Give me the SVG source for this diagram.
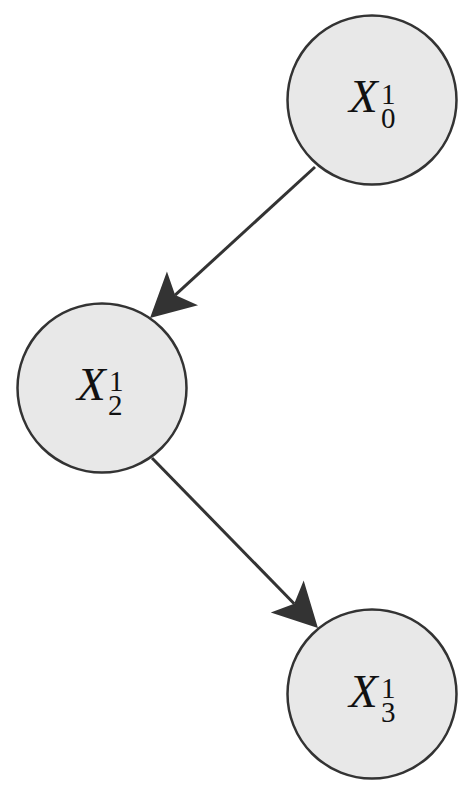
<svg xmlns="http://www.w3.org/2000/svg" width="474" height="797" viewBox="0 0 474 797">
<style>
.node{fill:#e8e8e8;stroke:#333;stroke-width:2.5}
.edge{stroke:#333;stroke-width:3;fill:none}
.v{font-family:"Liberation Serif","Times New Roman",serif;font-style:italic;font-size:47px;fill:#111}
.d{font-family:"Liberation Serif","Times New Roman",serif;font-size:29px;fill:#111}
</style>
<defs>
<marker id="arr" markerUnits="userSpaceOnUse" viewBox="-2 -25 48 50" markerWidth="48" markerHeight="50" refX="10" refY="0" orient="auto">
<path d="M44,0 L0,-23 L10,0 L0,23 Z" fill="#333"/>
</marker>
</defs>
<g id="connectors">
<line class="edge" x1="315" y1="167" x2="175.1" y2="295.1" marker-end="url(#arr)"/>
<line class="edge" x1="152" y1="458" x2="294.2" y2="603.7" marker-end="url(#arr)"/>
</g>
<g id="n0">
<circle class="node" cx="372" cy="100" r="84.5"/>
<text class="v" x="349" y="112">X</text>
<text class="d" x="381" y="104">1</text>
<text class="d" x="381" y="128">0</text>
</g>
<g id="n2">
<circle class="node" cx="102" cy="388" r="84.5"/>
<text class="v" x="77" y="400">X</text>
<text class="d" x="109" y="391">1</text>
<text class="d" x="108" y="415">2</text>
</g>
<g id="n3">
<circle class="node" cx="372" cy="694" r="84.5"/>
<text class="v" x="349" y="707">X</text>
<text class="d" x="381" y="698">1</text>
<text class="d" x="381" y="722">3</text>
</g>
</svg>
